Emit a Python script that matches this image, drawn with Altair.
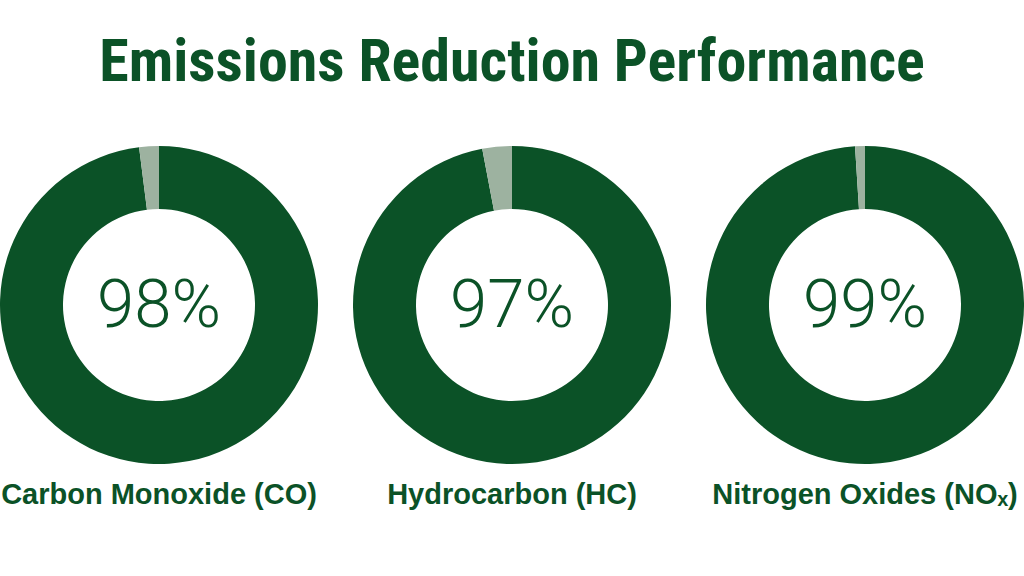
import altair as alt
import pandas as pd

pollutants = ["Carbon Monoxide (CO)", "Hydrocarbon (HC)", "Nitrogen Oxides (NOₓ)"]
reduction_pct = [98, 97, 99]

GREEN = "#0b5227"
GRAY = "#9db2a0"

rows = []
for name, v in zip(pollutants, reduction_pct):
    rows.append({"pollutant": name, "part": "reduced", "order": 0, "value": v, "label": f"{v}%"})
    rows.append({"pollutant": name, "part": "remaining", "order": 1, "value": 100 - v, "label": ""})
df = pd.DataFrame(rows)

base = alt.Chart(df)

arc = base.mark_arc(outerRadius=159, innerRadius=96, stroke=None).encode(
    theta=alt.Theta("value:Q", stack=True),
    order=alt.Order("order:Q"),
    color=alt.Color("part:N", scale=alt.Scale(domain=["reduced", "remaining"], range=[GREEN, GRAY]), legend=None),
)

txt = base.transform_filter(alt.datum.part == "reduced").mark_text(
    font="Roboto", fontWeight=300, fontSize=67, color=GREEN, baseline="middle", align="center", dy=2
).encode(text="label:N")

chart = alt.layer(arc, txt).properties(width=318, height=318).facet(
    column=alt.Column(
        "pollutant:N",
        sort=pollutants,
        header=alt.Header(
            title=None,
            labelOrient="bottom",
            labelFont="Liberation Sans",
            labelFontWeight="bold",
            labelFontSize=29,
            labelColor=GREEN,
            labelPadding=17,
        ),
    ),
    spacing=35,
).properties(
    title=alt.TitleParams(
        "Emissions Reduction Performance",
        font="Liberation Sans Narrow, Roboto Condensed, Roboto",
        fontWeight="bold",
        fontSize=60,
        color=GREEN,
        anchor="middle",
        offset=52,
    ),
    padding={"top": 33, "left": 0, "right": 0, "bottom": 0},
    background="white",
).configure_view(stroke=None)

chart.save("out.html", embed_options={"renderer": "svg", "actions": False})
